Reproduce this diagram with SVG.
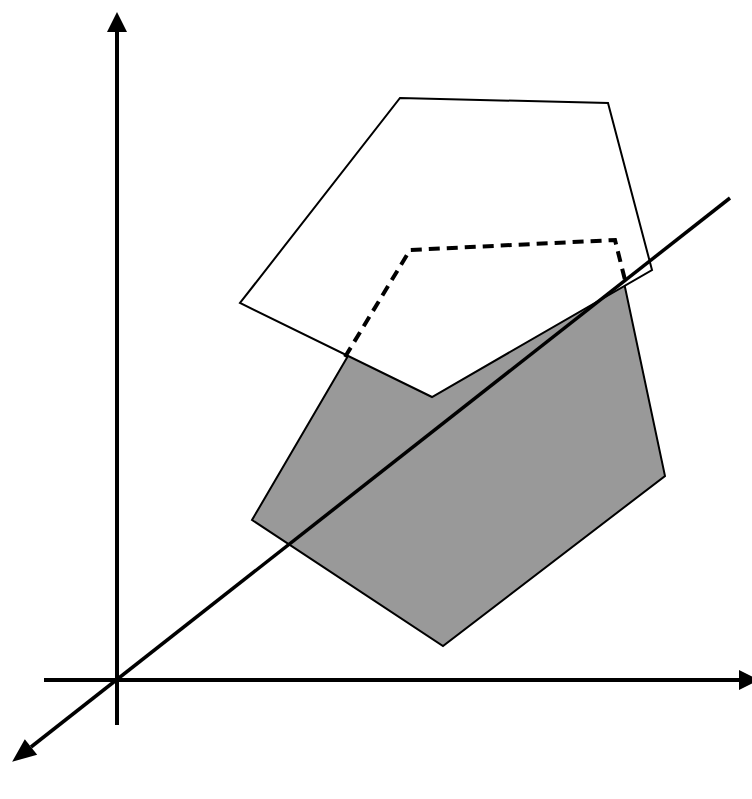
<svg xmlns="http://www.w3.org/2000/svg" width="752" height="799" viewBox="0 0 752 799">
<style>
.axis{stroke:#000;stroke-width:4;fill:none}
.diag{stroke:#000;stroke-width:3.5;fill:none}
.poly{stroke:#000;stroke-width:2;stroke-linejoin:miter}
.hidden{stroke:#000;stroke-width:4;fill:none;stroke-dasharray:11 7}
</style>
<defs>
<marker id="ah" markerUnits="userSpaceOnUse" markerWidth="22" markerHeight="22" refX="0" refY="10" orient="auto" overflow="visible">
<path d="M0,0 L20,10 L0,20 Z" fill="#000"/>
</marker>
<marker id="ah2" markerUnits="userSpaceOnUse" markerWidth="26" markerHeight="22" refX="0" refY="10" orient="auto" overflow="visible">
<path d="M0,0 L24,10 L0,20 Z" fill="#000"/>
</marker>
</defs>
<g id="shaded-pentagon">
<polygon class="poly" fill="#999999" points="410,250 615,240 665,476 443,646 252,520"/>
</g>
<g id="white-pentagon">
<polygon class="poly" fill="#ffffff" points="400,98 608,103 652,270 432,397 240,303"/>
</g>
<g id="hidden-edges">
<polyline class="hidden" points="345,357 410,250 615,240 626,284"/>
</g>
<g id="connectors">
<line class="axis" x1="117" y1="725" x2="117" y2="32" marker-end="url(#ah)"/>
<line class="axis" x1="44" y1="680" x2="739" y2="680" marker-end="url(#ah)"/>
<line class="diag" x1="730" y1="198" x2="31" y2="747" marker-end="url(#ah2)"/>
</g>
</svg>
